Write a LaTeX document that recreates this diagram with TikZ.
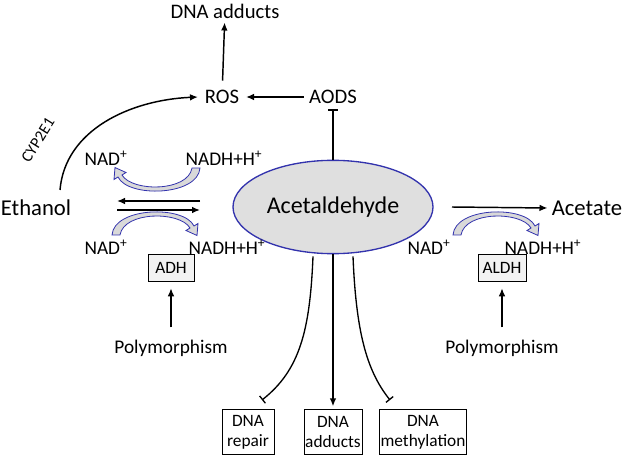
\documentclass[tikz,border=0pt]{standalone}
\usepackage{fontspec}
\setmainfont{Carlito}
\usetikzlibrary{arrows.meta,shapes.geometric}
\begin{document}
\begin{tikzpicture}[x=0.75pt,y=-0.75pt,
  lbl/.style={font=\fontsize{14.5}{17}\selectfont,inner sep=1pt},
  box/.style={draw,fill=gray!10,minimum width=34.5pt,minimum height=20pt,font=\fontsize{13}{15}\selectfont},
  wbox/.style={draw,fill=white,minimum height=34pt,align=center,font=\fontsize{13}{15}\selectfont,inner sep=1pt},
  arr/.style={-{Latex[length=6pt,width=5pt]},line width=1.1pt},
  inh/.style={-{Bar[width=7pt]},line width=1pt},
  hol/.style={draw=blue!60!black!80,fill=gray!30,line width=0.6pt}]
\useasboundingbox (0,0) rectangle (633,467);
\node[lbl,font=\fontsize{15.5}{18}\selectfont] (dna1) at (225,11) {DNA adducts};
\node[lbl,font=\fontsize{15.5}{18}\selectfont] (ros) at (222,97) {ROS};
\node[lbl,font=\fontsize{15.5}{18}\selectfont] (aods) at (333,97) {AODS};
\node[lbl,font=\fontsize{17}{20}\selectfont] (eth) at (36,208) {Ethanol};
\node[ellipse,draw=blue!60!black!80,line width=1pt,fill=gray!25,minimum width=150pt,minimum height=70pt,font=\fontsize{18}{21}\selectfont] (ace) at (333,207) {Acetaldehyde};
\node[lbl,font=\fontsize{17}{20}\selectfont] (act) at (587,208) {Acetate};
\node[lbl] (n1) at (106,158) {NAD\textsuperscript{+}};
\node[lbl] (n2) at (224,158) {NADH+H\textsuperscript{+}};
\node[lbl] (n3) at (106,247) {NAD\textsuperscript{+}};
\node[lbl] (n4) at (227,247) {NADH+H\textsuperscript{+}};
\node[lbl] (n5) at (429,247) {NAD\textsuperscript{+}};
\node[lbl] (n6) at (543,247) {NADH+H\textsuperscript{+}};
\node[box] (adh) at (171,268) {ADH};
\node[box] (aldh) at (502,268) {ALDH};
\node[lbl] (p1) at (171,348) {Polymorphism};
\node[lbl] (p2) at (502,348) {Polymorphism};
\node[wbox,minimum width=39pt] (rep) at (248,432) {DNA\\repair};
\node[wbox,minimum width=43.5pt] (add) at (333,432) {DNA\\adducts};
\node[wbox,minimum width=57pt] (met) at (423,432) {DNA\\methylation};
\coordinate (e1) at (117,201); \coordinate (e2) at (200,201);
\coordinate (e3) at (117,210); \coordinate (e4) at (200,210);
\coordinate (c0) at (60,190); \coordinate (a0) at (452,207);
\draw[arr,shorten <=6pt,shorten >=2pt] (ros) -- (dna1);
\draw[arr,shorten >=4pt,shorten <=3pt] (aods) -- (ros);
\draw[inh] (ace.north) -- ([yshift=-3pt]aods.south);
\draw[arr] (c0) .. controls (65,130) and (130,100) .. ([xshift=-4pt]ros.west);
\node[lbl,rotate=58,font=\fontsize{12}{14}\selectfont] (cyp) at (38,140) {CYP2E1};
\draw[arr] (e2) -- (e1);
\draw[arr] (e3) -- (e4);
\draw[arr] (a0) -- ([xshift=-2pt]act.west);
\draw[arr,shorten <=8pt,shorten >=5pt] (p1) -- (adh);
\draw[arr,shorten <=8pt,shorten >=5pt] (p2) -- (aldh);
\draw[arr,line width=1.2pt,shorten >=2pt] (ace.south) -- (add);
\draw[inh] (ace.south) ++(-20,2) .. controls (310,330) and (300,370) .. (262,400);
\draw[inh] (ace.south) ++(20,2) .. controls (356,330) and (366,370) .. (390,400);
\foreach \sx/\sy/\px/\py in {1/1/156/235, -1/-1/156/168, 1/1/497/235}{
 \begin{scope}[shift={(\px,\py)},xscale=\sx,yscale=\sy]
 \path[hol] (-44,0) .. controls (-42,-28) and (28,-30) .. (38,-9) -- (42,-11.5) -- (41,0.5) -- (30,-4.5) -- (34,-7) .. controls (24,-24) and (-32,-24) .. (-36,0) -- cycle;
 \end{scope}}
\end{tikzpicture}
\end{document}
